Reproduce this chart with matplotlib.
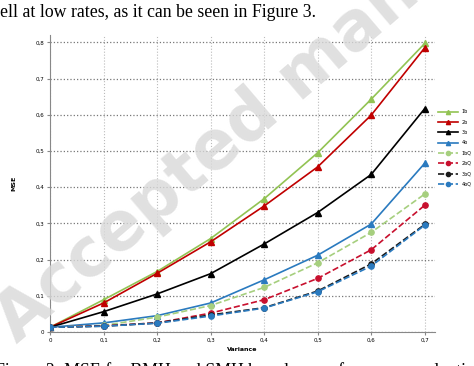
import matplotlib
matplotlib.use("Agg")
import matplotlib.pyplot as plt
from matplotlib.ticker import FuncFormatter

variance = [0, 0.1, 0.2, 0.3, 0.4, 0.5, 0.6, 0.7]

labels = ["1b", "2b", "3b", "4b", "1bQ", "2bQ", "3bQ", "4bQ"]
mse_1b = [0.013, 0.089, 0.167, 0.258, 0.368, 0.495, 0.643, 0.797]
mse_2b = [0.013, 0.080, 0.162, 0.249, 0.348, 0.456, 0.599, 0.785]
mse_3b = [0.013, 0.056, 0.105, 0.161, 0.243, 0.330, 0.435, 0.617]
mse_4b = [0.013, 0.025, 0.045, 0.080, 0.144, 0.212, 0.298, 0.466]
mse_1bq = [0.013, 0.018, 0.041, 0.073, 0.123, 0.191, 0.275, 0.381]
mse_2bq = [0.013, 0.017, 0.025, 0.052, 0.089, 0.148, 0.227, 0.350]
mse_3bq = [0.013, 0.016, 0.025, 0.047, 0.067, 0.113, 0.188, 0.297]
mse_4bq = [0.013, 0.016, 0.024, 0.044, 0.066, 0.111, 0.182, 0.295]

series = [mse_1b, mse_2b, mse_3b, mse_4b, mse_1bq, mse_2bq, mse_3bq, mse_4bq]
colors = ["#92c353", "#c00000", "#000000", "#2a7abf",
          "#a6cf7e", "#c8102e", "#1a1a1a", "#2a7abf"]
styles = ["-", "-", "-", "-", "--", "--", "--", "--"]
markers = ["^", "^", "^", "^", "o", "o", "o", "o"]

fig = plt.figure(figsize=(4.74, 3.66), dpi=100)
ax = fig.add_axes([0.1055, 0.093, 0.812, 0.811])

for y, lab, c, ls, m in zip(series, labels, colors, styles, markers):
    ax.plot(variance, y, color=c, linestyle=ls, marker=m, markersize=3.8,
            linewidth=1.2, label=lab, zorder=3)

ax.set_xlim(0, 0.719)
ax.set_ylim(0, 0.82)
ax.set_xticks(variance)
ax.set_yticks([0, 0.1, 0.2, 0.3, 0.4, 0.5, 0.6, 0.7, 0.8])
fmt = FuncFormatter(lambda v, p: "0" if abs(v) < 1e-9 else ("%.1f" % v).replace(".", ","))
ax.xaxis.set_major_formatter(fmt)
ax.yaxis.set_major_formatter(fmt)
ax.tick_params(labelsize=4, length=2, color="#888888", pad=2)
ax.grid(axis="y", linestyle=":", color="#777777", linewidth=0.9)
ax.grid(axis="x", linestyle=":", color="#bbbbbb", linewidth=0.8)
for s in ["top", "right"]:
    ax.spines[s].set_visible(False)
for s in ["left", "bottom"]:
    ax.spines[s].set_color("#888888")
    ax.spines[s].set_linewidth(0.8)
ax.set_xlabel("Variance", fontsize=4.5, fontweight="bold", labelpad=3)
ax.set_ylabel("MSE", fontsize=4.5, fontweight="bold", labelpad=14)

ax.legend(loc="center left", bbox_to_anchor=(1.0, 0.62), fontsize=3.5,
          frameon=False, handlelength=4, labelspacing=1.1, borderaxespad=0.3,
          markerscale=0.8)

fig.text(0.0, 0.965, "ell at low rates, as it can be seen in Figure 3.",
         fontsize=12.8, family="Liberation Serif", va="center", ha="left")
fig.text(-0.01, -0.014, "Figure 3: MSE for BMH and SMH based on performance evaluation in Section 4",
         fontsize=12.8, family="Liberation Serif", va="center", ha="left")
fig.text(0.055, 0.03, "Accepted manuscript", fontsize=48, fontweight="bold",
         color="#d9d9d9", alpha=0.8, rotation=40.5, rotation_mode="anchor",
         ha="left", va="bottom", zorder=2)

fig.savefig("out.png", dpi=100)
